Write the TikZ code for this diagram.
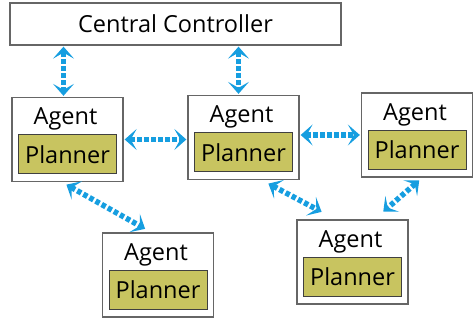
\documentclass[tikz,border=0pt]{standalone}
\usepackage{fontspec}
\setmainfont{Open Sans}
\usetikzlibrary{arrows.meta,calc}
\definecolor{linkblue}{RGB}{22,158,224}
\definecolor{plannerolive}{RGB}{200,196,96}
\colorlet{boxgray}{black!60}
\tikzset{
  box/.style={draw=boxgray, line width=1.3pt, fill=white, inner sep=0pt},
  agentbox/.style={box, minimum width=111pt, minimum height=84pt},
  plannerbox/.style={draw=black!75, line width=1pt, fill=plannerolive, inner sep=0pt,
    minimum width=98pt, minimum height=39pt, font=\fontsize{23.5}{26}\selectfont},
  agentlabel/.style={anchor=base, inner sep=0pt, font=\fontsize{23.5}{26}\selectfont},
  link/.style={draw=linkblue, line width=5.5pt, dash pattern=on 4.5pt off 2.5pt,
    {Stealth[length=12pt,width=21pt,inset=6pt]}-{Stealth[length=12pt,width=21pt,inset=6pt]},
    shorten <=1pt, shorten >=1pt},
}

\begin{document}
\begin{tikzpicture}[x=1pt,y=-1pt]
\useasboundingbox (0,0) rectangle (474,336);
% controller
\node[box, minimum width=331pt, minimum height=42pt, font=\fontsize{23.5}{26}\selectfont]
  (cc) at (175.5,24) {Central Controller};
% agents, each with its planner
\foreach \n/\x/\y in {1/67.5/139.5, 2/243.5/137.5, 3/417/135, 4/158/275, 5/352.5/262}{
  \node[agentbox] (a\n) at (\x,\y) {};
  \node[agentlabel] (t\n) at (\x-2,\y-14.5) {Agent};
  \node[plannerbox] (p\n) at (\x,\y+15) {Planner};
}
% links to the controller
\draw[link] ($(cc.south)!(a1.north)!(cc.south east)$) ++(-4,0) coordinate (c1) -- (c1 |- a1.north);
\draw[link] ($(cc.south)!(a2.north)!(cc.south west)$) ++(-5,0) coordinate (c2) -- (c2 |- a2.north);
% links between agents
\draw[link] (a1.east) -- (a1.east -| a2.west);
\draw[link] (a2.east |- a3.west) -- (a3.west);
\draw[link] ($(a1.south)+(-2,2)$) -- ($(a4.north)+(-12,-3)$);
\draw[link] ($(a2.south)+(24,3)$) -- ($(a5.north)+(-30,-7)$);
\draw[link] ($(a3.south)+(3,2)$) -- ($(a5.north)+(30,-7)$);
\end{tikzpicture}
\end{document}
